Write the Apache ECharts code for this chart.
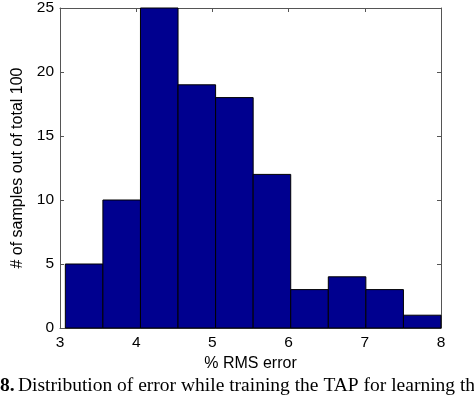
<!DOCTYPE html>
<html>
<head>
<meta charset="utf-8">
<script src="https://cdn.jsdelivr.net/npm/echarts@6/dist/echarts.min.js"></script>
<style>html,body{margin:0;padding:0;background:#fff}#c{width:474px;height:395px}</style>
</head>
<body>
<div id="c"></div>
<script>
var binEdges = [3.07, 3.563, 4.056, 4.549, 5.042, 5.535, 6.028, 6.521, 7.014, 7.507, 8.0];
var counts = [5, 10, 25, 19, 18, 12, 3, 4, 3, 1];
var xTicks = [3, 4, 5, 6, 7, 8];
var yTicks = [0, 5, 10, 15, 20, 25];
var xLabel = '% RMS error';
var yLabel = '# of samples out of total 100';
var caption = 'Distribution of error while training the TAP for learning the';

var chart = echarts.init(document.getElementById('c'), null, {renderer: 'canvas'});
var data = counts.map(function (v, i) { return [binEdges[i], binEdges[i + 1], v]; });
var axisFont = {color: '#000', fontFamily: 'Liberation Sans, Arial', fontSize: 15.5};
var nameFont = {color: '#000', fontFamily: 'Liberation Sans, Arial', fontSize: 16};
var lineStyle = {color: '#555', width: 1};
function mirrorAxis(extra) {
  return Object.assign({
    axisLine: {show: true, onZero: false, lineStyle: lineStyle},
    axisTick: {show: true, inside: true, length: 4, lineStyle: lineStyle},
    axisLabel: {show: false},
    splitLine: {show: false}
  }, extra);
}
chart.setOption({
  animation: false,
  grid: {left: 60, right: 33, top: 7, bottom: 67},
  xAxis: [
    {type: 'value', min: 3, max: 8, interval: 1, position: 'bottom',
     name: xLabel, nameLocation: 'middle', nameGap: 28,
     nameTextStyle: nameFont,
     axisLine: {show: true, onZero: false, lineStyle: lineStyle},
     axisTick: {show: true, inside: true, length: 4, lineStyle: lineStyle},
     axisLabel: Object.assign({margin: 7, formatter: function (v) { return xTicks.indexOf(v) >= 0 ? v : ''; }}, axisFont),
     splitLine: {show: false}},
    mirrorAxis({type: 'value', min: 3, max: 8, interval: 1, position: 'top'})
  ],
  yAxis: [
    {type: 'value', min: 0, max: 25, interval: 5, position: 'left',
     name: yLabel, nameLocation: 'middle', nameGap: 29,
     nameTextStyle: nameFont,
     axisLine: {show: true, onZero: false, lineStyle: lineStyle},
     axisTick: {show: true, inside: true, length: 4, lineStyle: lineStyle},
     axisLabel: Object.assign({margin: 6, formatter: function (v) { return yTicks.indexOf(v) >= 0 ? v : ''; }}, axisFont),
     splitLine: {show: false}},
    mirrorAxis({type: 'value', min: 0, max: 25, interval: 5, position: 'right'})
  ],
  series: [{
    type: 'custom',
    xAxisIndex: 0, yAxisIndex: 0,
    data: data,
    encode: {x: [0, 1], y: 2},
    renderItem: function (params, api) {
      var p0 = api.coord([api.value(0), 0]);
      var p1 = api.coord([api.value(1), api.value(2)]);
      return {
        type: 'rect',
        shape: {x: p0[0], y: p1[1], width: p1[0] - p0[0], height: p0[1] - p1[1]},
        style: {fill: '#00008F', stroke: '#000', lineWidth: 1}
      };
    }
  }],
  graphic: [{
    type: 'text', left: 0, top: 376,
    style: {
      rich: {b: {fontWeight: 'bold', fontFamily: 'Liberation Serif', fontSize: 19.5, fill: '#000'},
             n: {fontFamily: 'Liberation Serif', fontSize: 19.5, fill: '#000'}},
      text: '{b|8.} {n|' + caption + '}'
    }
  }]
});
</script>
</body>
</html>
